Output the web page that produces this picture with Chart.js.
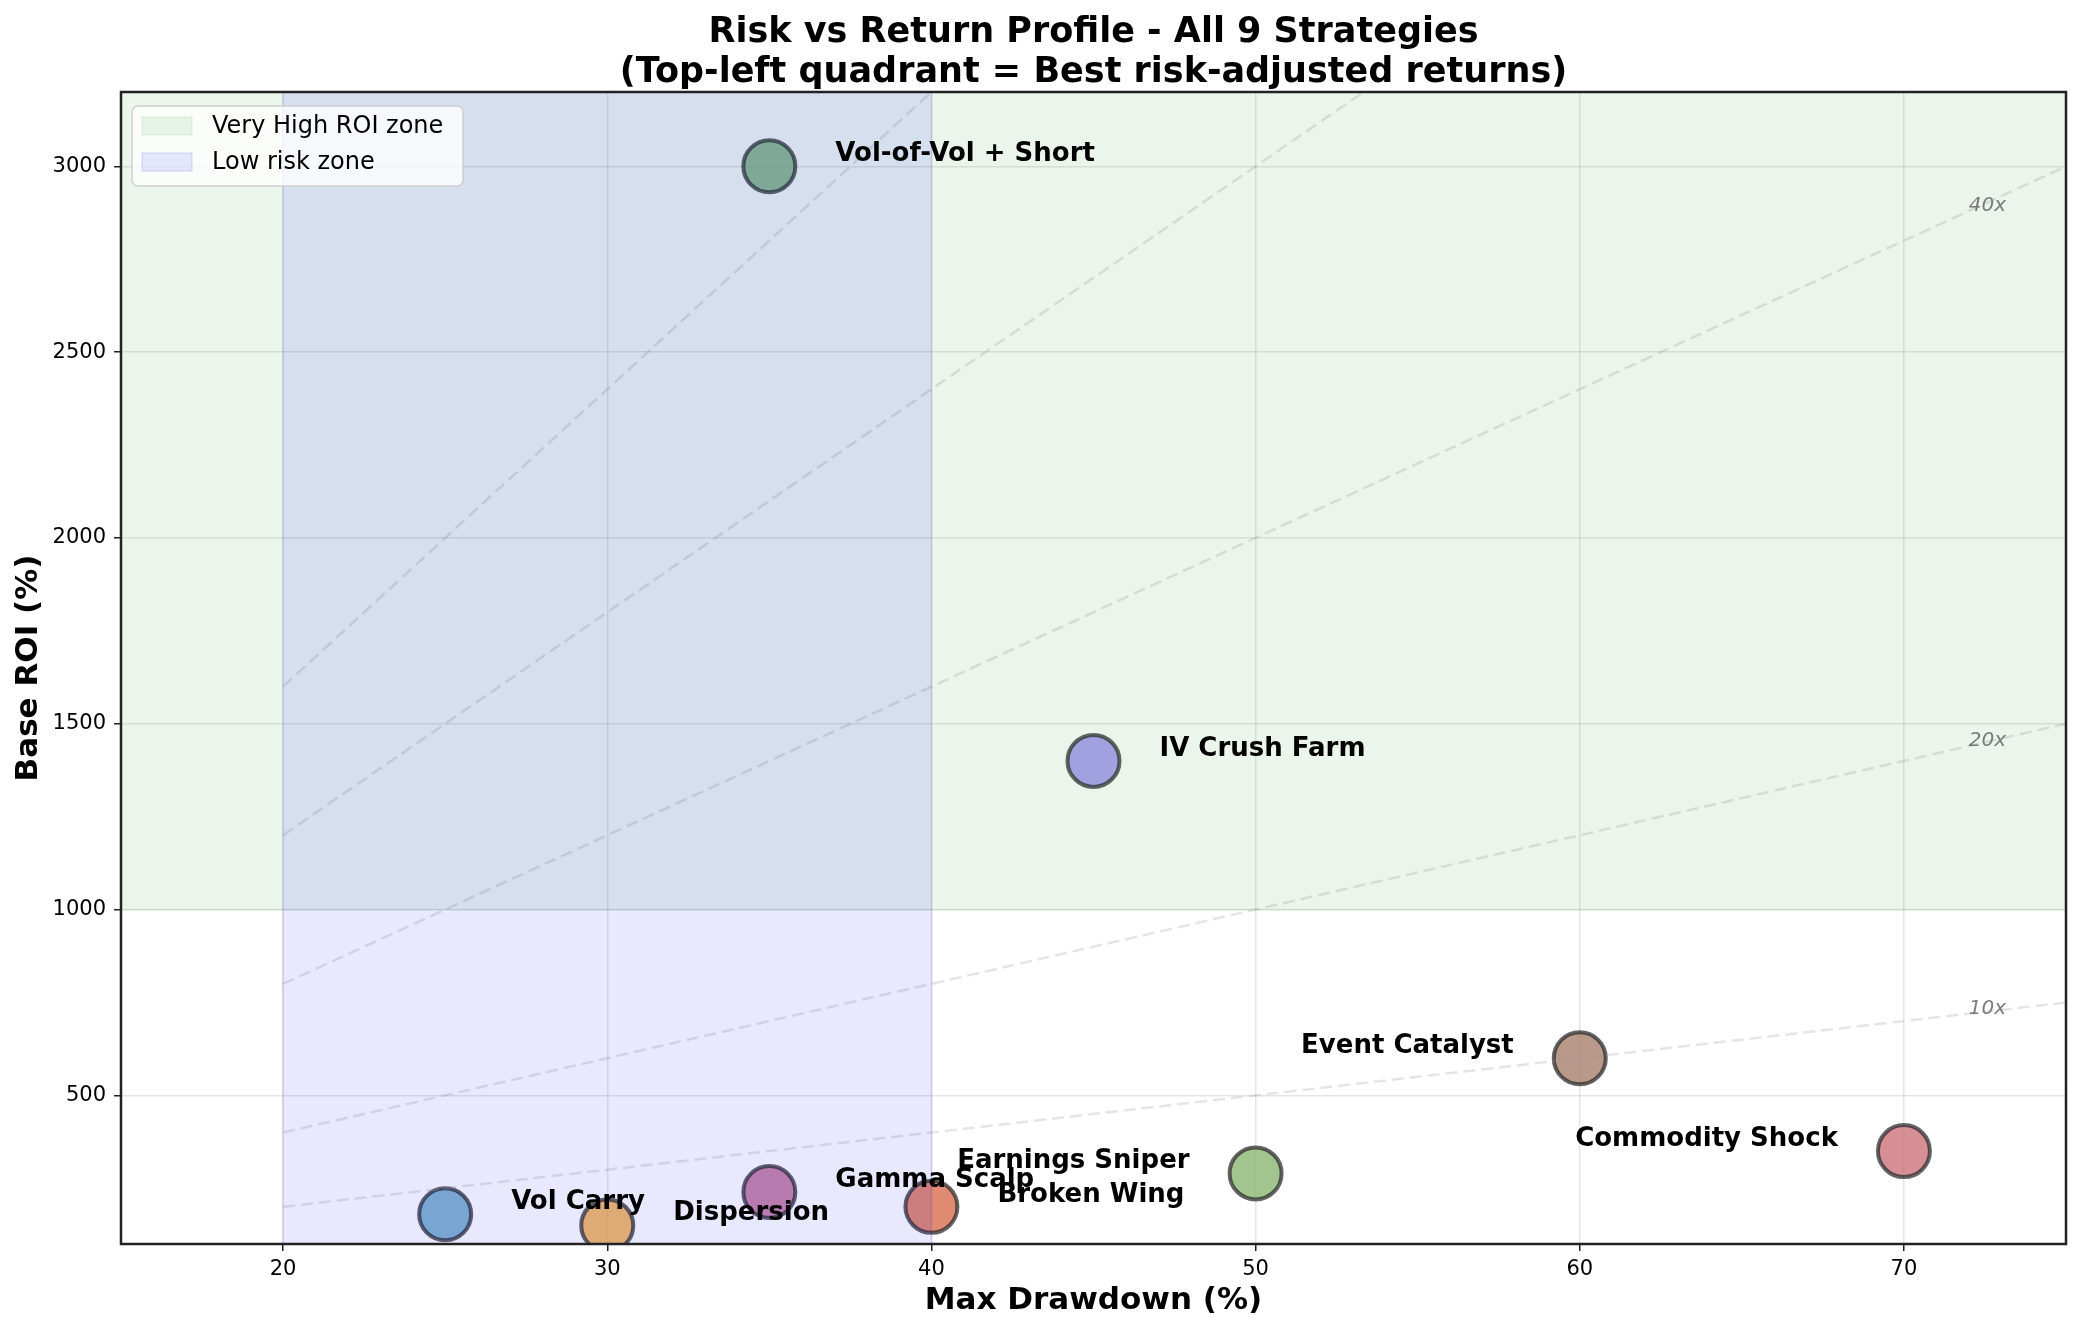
<!DOCTYPE html>
<html>
<head>
<meta charset="utf-8">
<script src="https://cdn.jsdelivr.net/npm/chart.js@4.4.1/dist/chart.umd.min.js"></script>
<style>
  html, body { margin: 0; padding: 0; background: #fff; }
  #wrap { width: 2082px; height: 1332px; }
</style>
</head>
<body>
<div id="wrap"><canvas id="riskChart" width="2082" height="1332"></canvas></div>
<script>
// strategy data
const strategies = ["Vol Carry", "Dispersion", "Gamma Scalp", "Broken Wing", "IV Crush Farm", "Earnings Sniper", "Event Catalyst", "Commodity Shock", "Vol-of-Vol + Short"];
const maxDrawdown = [25, 30, 35, 40, 45, 50, 60, 70, 35];
const baseRoi = [180, 150, 240, 200, 1400, 290, 600, 350, 3000];
const pointColors = [
    "rgba(78,150,182,0.7)",
    "rgba(240,160,40,0.7)",
    "rgba(178,84,131,0.7)",
    "rgba(211,88,54,0.7)",
    "rgba(140,125,235,0.7)",
    "rgba(122,171,95,0.7)",
    "rgba(155,109,88,0.7)",
    "rgba(197,96,102,0.7)",
    "rgba(109,162,111,0.7)"
];
const ratioLines = [10, 20, 40, 60, 80];
const ratioLabelX = 72;
const xTicks = [20, 30, 40, 50, 60, 70];
const yTicks = [500, 1000, 1500, 2000, 2500, 3000];
const highRoiFrom = 1000;
const lowRiskFrom = 20;
const lowRiskTo = 40;

const FONT = "'DejaVu Sans', 'Liberation Sans', sans-serif";
Chart.defaults.font.family = FONT;
Chart.defaults.color = "#000";

// labels that sit on the left of their marker
const leftLabels = new Set(["Earnings Sniper", "Event Catalyst", "Commodity Shock"]);

const zonePlugin = {
    id: "zones",
    afterDatasetsDraw(chart) {
        const { ctx, chartArea, scales } = chart;
        const { left, right, top, bottom } = chartArea;
        ctx.save();
        ctx.beginPath();
        ctx.rect(left, top, right - left, bottom - top);
        ctx.clip();
        // very high ROI zone
        const yHigh = scales.y.getPixelForValue(highRoiFrom);
        ctx.fillStyle = "rgba(0,128,0,0.08)";
        ctx.strokeStyle = "rgba(0,128,0,0.08)";
        ctx.lineWidth = 1.5;
        ctx.fillRect(left, top, right - left, yHigh - top);
        ctx.strokeRect(left, top, right - left, yHigh - top);
        // low risk zone
        const x1 = scales.x.getPixelForValue(lowRiskFrom);
        const x2 = scales.x.getPixelForValue(lowRiskTo);
        ctx.fillStyle = "rgba(0,0,255,0.09)";
        ctx.strokeStyle = "rgba(0,0,255,0.1)";
        ctx.fillRect(x1, top, x2 - x1, bottom - top);
        ctx.strokeRect(x1, top - 5, x2 - x1, bottom - top + 10);
        ctx.restore();
    }
};

const annotatePlugin = {
    id: "annotate",
    afterDraw(chart) {
        const { ctx, chartArea, scales } = chart;
        const { left, right, top, bottom } = chartArea;
        ctx.save();

        // ratio labels
        ctx.beginPath();
        ctx.rect(left, top, right - left, bottom - top);
        ctx.clip();
        ctx.font = "italic 20px " + FONT;
        ctx.fillStyle = "rgba(110,110,110,0.9)";
        ctx.textAlign = "left";
        ctx.textBaseline = "alphabetic";
        ratioLines.forEach(k => {
            const px = scales.x.getPixelForValue(ratioLabelX);
            const py = scales.y.getPixelForValue(ratioLabelX * k);
            ctx.fillText(k + "x", px, py);
        });

        // strategy labels
        ctx.font = "bold 26px " + FONT;
        ctx.fillStyle = "#000";
        strategies.forEach((name, i) => {
            const px = scales.x.getPixelForValue(maxDrawdown[i]);
            const py = scales.y.getPixelForValue(baseRoi[i]);
            if (leftLabels.has(name)) {
                ctx.textAlign = "right";
                ctx.fillText(name, px - 66, py - 5);
            } else {
                ctx.textAlign = "left";
                ctx.fillText(name, px + 66, py - 5);
            }
        });
        ctx.restore();

        // frame
        ctx.save();
        ctx.strokeStyle = "#222";
        ctx.lineWidth = 2.5;
        ctx.strokeRect(left, top, right - left, bottom - top);
        ctx.restore();

        // legend
        ctx.save();
        const lx = left + 11, ly = top + 14;
        ctx.beginPath();
        ctx.roundRect(lx, ly, 331, 80, 6);
        ctx.fillStyle = "rgba(255,255,255,0.8)";
        ctx.fill();
        ctx.strokeStyle = "rgba(204,204,204,0.9)";
        ctx.lineWidth = 1.5;
        ctx.stroke();
        ctx.fillStyle = "rgba(0,128,0,0.08)";
        ctx.strokeStyle = "rgba(0,128,0,0.08)";
        ctx.fillRect(lx + 10, ly + 11, 50, 18);
        ctx.strokeRect(lx + 10, ly + 11, 50, 18);
        ctx.fillStyle = "rgba(0,0,255,0.09)";
        ctx.strokeStyle = "rgba(0,0,255,0.1)";
        ctx.fillRect(lx + 10, ly + 47, 50, 18);
        ctx.strokeRect(lx + 10, ly + 47, 50, 18);
        ctx.font = "24px " + FONT;
        ctx.fillStyle = "#000";
        ctx.textAlign = "left";
        ctx.textBaseline = "middle";
        ctx.fillText("Very High ROI zone", lx + 80, ly + 21);
        ctx.fillText("Low risk zone", lx + 80, ly + 57);
        ctx.restore();

        // title, centred over the plot area
        ctx.save();
        const cx = (left + right) / 2;
        ctx.font = "bold 35px " + FONT;
        ctx.fillStyle = "#000";
        ctx.textAlign = "center";
        ctx.textBaseline = "alphabetic";
        ctx.fillText("Risk vs Return Profile - All 9 Strategies", cx, 42);
        ctx.fillText("(Top-left quadrant = Best risk-adjusted returns)", cx, 82);
        ctx.restore();
    }
};

const ratioDatasets = ratioLines.map(k => ({
    type: "line",
    label: k + "x",
    data: [{ x: 20, y: 20 * k }, { x: 75, y: 75 * k }],
    borderColor: "rgba(150,150,150,0.25)",
    borderWidth: 2.5,
    borderDash: [12, 6],
    pointRadius: 0,
    fill: false,
    order: 1
}));

function noPad(s) {
    s.paddingLeft = 0;
    s.paddingRight = 0;
    s.paddingTop = 0;
    s.paddingBottom = 0;
}

const ctx = document.getElementById("riskChart");
new Chart(ctx, {
    type: "scatter",
    data: {
        datasets: [{
            label: "Strategies",
            data: strategies.map((s, i) => ({ x: maxDrawdown[i], y: baseRoi[i] })),
            backgroundColor: pointColors,
            borderColor: "rgba(40,40,40,0.72)",
            borderWidth: 4,
            pointRadius: 26,
            pointHoverRadius: 26,
            order: 2
        }, ...ratioDatasets]
    },
    options: {
        responsive: false,
        animation: false,
        events: [],
        layout: { autoPadding: false, padding: { top: 92, right: 16, left: 0, bottom: 0 } },
        plugins: {
            legend: { display: false },
            tooltip: { enabled: false },
            title: { display: false }
        },
        scales: {
            x: {
                type: "linear",
                min: 15,
                max: 75,
                afterBuildTicks: s => { s.ticks = xTicks.map(v => ({ value: v })); },
                afterFit: s => { s.height = 88; noPad(s); },
                ticks: { font: { size: 21 }, color: "#000", padding: 6, callback: v => String(v) },
                grid: { color: "rgba(0,0,0,0.1)", lineWidth: 1.5, tickColor: "#222", tickLength: 7, tickWidth: 1.5 },
                border: { display: false },
                title: { display: true, text: "Max Drawdown (%)", font: { size: 31, weight: "bold" }, color: "#000", padding: { top: 0, bottom: 12 } }
            },
            y: {
                type: "linear",
                min: 100,
                max: 3200,
                afterBuildTicks: s => { s.ticks = yTicks.map(v => ({ value: v })); },
                afterFit: s => { s.width = 121; noPad(s); },
                ticks: { font: { size: 21 }, color: "#000", padding: 8, callback: v => String(v) },
                grid: { color: "rgba(0,0,0,0.1)", lineWidth: 1.5, tickColor: "#222", tickLength: 7, tickWidth: 1.5 },
                border: { display: false },
                title: { display: true, text: "Base ROI (%)", font: { size: 31, weight: "bold" }, color: "#000", padding: { top: 10, bottom: 0 } }
            }
        }
    },
    plugins: [zonePlugin, annotatePlugin]
});
</script>
</body>
</html>
